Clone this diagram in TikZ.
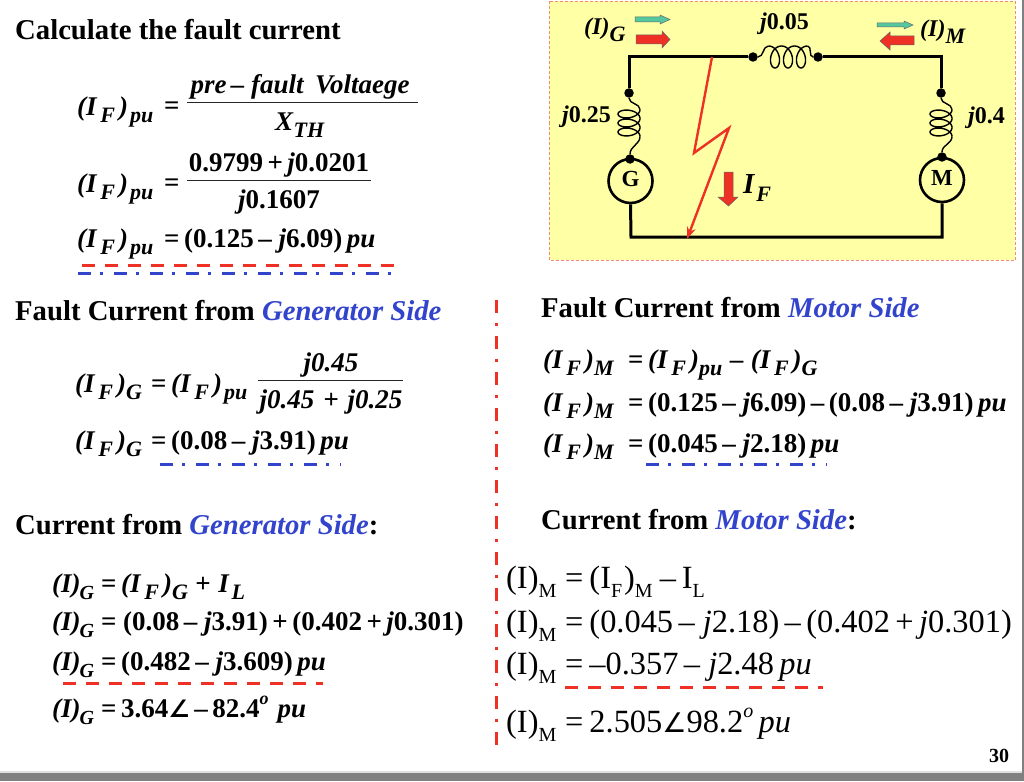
\documentclass[tikz,border=0pt]{standalone}
\usepackage{fontspec}
\usetikzlibrary{arrows.meta}
\setmainfont{Liberation Serif}
\newfontfamily\dvfont{DejaVu Sans}
\definecolor{redc}{HTML}{EE3124}
\definecolor{bluec}{HTML}{3344CC}
\definecolor{tealc}{HTML}{55C8A0}
\definecolor{boxc}{HTML}{FFFFA6}
\definecolor{boxline}{HTML}{F58A7A}
\newcommand\fs[1]{\fontsize{#1}{#1}\selectfont}
\newcommand\subs[1]{\raisebox{-0.28em}{\fs{22}#1}}
\newcommand\ssubs[1]{\raisebox{-0.3em}{\fs{20}#1}}
\newcommand\fI{\textit{(I}\kern3pt\subs{\textit{F}}\kern4pt\textit{)}}
\newcommand\fIG{\textit{(I)}\kern-1pt\raisebox{-0.28em}{\fs{20}\textit{G}}}
\newcommand\rI{(I)\ssubs{M}}
\newcommand\ang{{\dvfont\fs{24}∠}}
\newcommand\E[4]{\node[#1] (#2) at (#3) {#4};}
\tikzset{
 head/.style={font=\bfseries\fs{28.7},anchor=base west,inner sep=0pt},
 eqn/.style={font=\bfseries\fs{27},anchor=base west,inner sep=0pt},
 eqc/.style={font=\bfseries\fs{27},anchor=base,inner sep=0pt},
 req/.style={font=\fs{32.4},anchor=base west,inner sep=0pt},
 lab/.style={font=\bfseries\itshape\fs{24},anchor=base west,inner sep=0pt},
 fracline/.style={line width=1pt,black!85},
 reddash/.style={redc,line width=3pt,dash pattern=on 13pt off 10pt},
 bluedash/.style={bluec,line width=3pt,dash pattern=on 13pt off 9pt on 3pt off 11pt},
 divider/.style={redc,line width=3pt,dash pattern=on 13pt off 10pt on 3pt off 10pt},
 wire/.style={line width=3pt,black,line join=miter},
 coil/.style={line width=1.4pt,black},
 junction/.style={circle,fill=black,inner sep=0pt,minimum size=9.5pt},
 machine/.style={circle,draw=black,line width=2.6pt,fill=boxc,minimum size=44pt,inner sep=0pt,font=\bfseries\fs{23}},
 blockarrow/.style={draw=black!60,line width=.5pt},
}
\begin{document}
\begin{tikzpicture}[x=1pt,y=-1pt]
\useasboundingbox (0,0) rectangle (1024,781);
\fill[white] (0,0) rectangle (1024,781);
% slide frame
\fill[black!50] (0,773) rectangle (1024,781);
\fill[black!50] (1022,0) rectangle (1024,781);
\fill[black!12] (0,771) rectangle (1022,773);
% circuit panel
\draw[boxline,fill=boxc,line width=1pt,dash pattern=on 3pt off 2pt] (549,1.5) rectangle (1015,260);
% circuit nodes
\node[machine] (G) at (630.5,181) {\raisebox{4pt}{G}};
\node[machine] (M) at (942,180) {\raisebox{5pt}{M}};
\node[junction] (dA) at (753,57) {};
\node[junction] (dB) at (818,57) {};
\node[junction] (dL) at (629,93) {};
\node[junction] (dR) at (941,93) {};
\node[junction] (dG) at (630,159) {};
\node[junction] (dM) at (942,157) {};
\coordinate (BL) at (631,237);
\coordinate (BR) at (942,237);
\coordinate (F1) at (712,57);
\coordinate (F2) at (729,128);
\coordinate (F3) at (694,153);
\coordinate (F4) at (687,239);
\coordinate (hS) at (768.5,46);
\coordinate (hE) at (807.5,46);
\coordinate (lS) at (640,109.5);
\coordinate (lE) at (640,136.5);
\coordinate (rS) at (952,109.5);
\coordinate (rE) at (952,136.5);
% wires
\draw[wire] (dL) |- (dA);
\draw[wire] (dB) -| (dR);
\draw[wire] (G.south) -- (BL) -- (BR) -- (M.south);
% coils
\draw[coil] (dA) to[out=0,in=180] (hS);
\draw[coil,domain=-180:900,samples=110] plot ({775+13*\x/360-7.5*sin(\x)},{57+11*cos(\x)});
\draw[coil] (hE) to[out=0,in=180] (dB);
\draw[coil] (dL) to[out=-90,in=90] (lS);
\draw[coil,domain=-180:900,samples=110] plot ({629-11*cos(\x)},{114+9*\x/360-6*sin(\x)});
\draw[coil] (lE) to[out=-90,in=90] (dG);
\draw[coil] (dR) to[out=-90,in=90] (rS);
\draw[coil,domain=-180:900,samples=110] plot ({941-11*cos(\x)},{114+9*\x/360-6*sin(\x)});
\draw[coil] (rE) to[out=-90,in=90] (dM);
% fault
\draw[redc,line width=2.4pt,-{Stealth[length=12pt,width=9pt]},line join=miter] (F1) -- (F3) -- (F2) -- (F4);
% block arrows
\fill[tealc,blockarrow] (635,17) -- (660,17) -- (660,15) -- (670,19.5) -- (660,24) -- (660,22) -- (635,22) -- cycle;
\fill[redc,blockarrow] (636,35) -- (662,35) -- (662,31) -- (670,39.5) -- (662,48) -- (662,44) -- (636,44) -- cycle;
\fill[tealc,blockarrow] (877,23) -- (904,23) -- (904,21) -- (913,25) -- (904,29) -- (904,27) -- (877,27) -- cycle;
\fill[redc,blockarrow] (914,36) -- (890,36) -- (890,32) -- (880,41) -- (890,50) -- (890,45) -- (914,45) -- cycle;
\fill[redc,blockarrow] (724,172) -- (733,172) -- (733,197) -- (738,197) -- (728.5,206) -- (718,197) -- (724,197) -- cycle;
% circuit labels
\node[lab] (lIG) at (584,35) {(I)\subs{G}};
\node[lab] (lIM) at (920,37) {(I)\subs{M}};
\node[lab] (l005) at (760,30) {j\textup{0.05}};
\node[lab] (l025) at (562,122) {j\textup{0.25}};
\node[lab] (l04) at (968,124) {j\textup{0.4}};
\node[lab,font=\bfseries\itshape\fs{29}] (lIF) at (743,193) {I\kern2pt\subs{F}};
% top left
\node[head] (t1) at (15,40) {Calculate the fault current};
\E{eqn}{a1}{77,115}{\fI\kern2pt\subs{\textit{pu}}}
\E{eqn}{a1e}{164,114}{=}
\E{eqc}{a1n}{300,94}{\textit{pre\,– fault\, Voltaege}}
\draw[fracline] (187,103) -- (418,103);
\E{eqc}{a1d}{300,130}{\textit{X}\subs{\textit{TH}}}
\E{eqn}{a2}{77,192}{\fI\kern2pt\subs{\textit{pu}}}
\E{eqn}{a2e}{164,191}{=}
\E{eqc}{a2n}{279,171}{0.9799\,+\,\textit{j}0.0201}
\draw[fracline] (187,180) -- (371,180);
\E{eqc}{a2d}{279,208}{\textit{j}0.1607}
\E{eqn}{a3}{77,247}{\fI\kern2pt\subs{\textit{pu}}}
\E{eqn}{a3e}{164,247}{=\,(0.125\,– \textit{j}6.09)\,\textit{pu}}
\draw[reddash] (82,265) -- (394,265);
\draw[bluedash] (78,273.5) -- (393,273.5);
% generator side
\node[head] (t2) at (15,320) {Fault Current from \textcolor{bluec}{\textit{Generator Side}}};
\E{eqn}{b1}{75,392}{\fI\subs{\textit{G}}}
\E{eqn}{b1e}{151,392}{=\,\fI\kern2pt\subs{\textit{pu}}}
\E{eqc}{b1n}{331,371}{\textit{j0.45}}
\draw[fracline] (258,380) -- (403,380);
\E{eqc}{b1d}{331,408}{\textit{j0.45\,\,+\,\,j0.25}}
\E{eqn}{b2}{75,449}{\fI\subs{\textit{G}}}
\E{eqn}{b2e}{151,449}{=\,(0.08\,– \textit{j}3.91)\,\textit{pu}}
\draw[bluedash] (160,464) -- (341,464);
\node[head] (t3) at (15,534) {Current from \textcolor{bluec}{\textit{Generator Side}}:};
\E{eqn}{c1}{52,592}{\fIG}
\E{eqn}{c1e}{101,592}{=\,\fI\subs{\textit{G}}\kern3pt\,+\,\kern3pt\textit{I}\kern2pt\subs{\textit{L}}}
\E{eqn}{c2}{52,630}{\fIG}
\E{eqn}{c2e}{101,630}{=\,\kern2pt(0.08\,– \textit{j}3.91)\,+\,(0.402\,+\,\textit{j}0.301)}
\E{eqn}{c3}{52,670}{\fIG}
\E{eqn}{c3e}{101,670}{=\,(0.482\,– \textit{j}3.609)\,\textit{pu}}
\draw[reddash] (63,683) -- (323,683);
\E{eqn}{c4}{52,717}{\fIG}
\E{eqn}{c4e}{101,717}{=\,3.64\ang\,–\,82.4\raisebox{.45em}{\fs{18}\textit{o}}\,\,\textit{pu}}
% divider
\draw[divider] (496,300) -- (496,746);
% motor side
\node[head] (t4) at (541,317) {Fault Current from \textcolor{bluec}{\textit{Motor Side}}};
\E{eqn}{d1}{543,368}{\fI\subs{\textit{M}}}
\E{eqn}{d1e}{628,368}{=\,\fI\subs{\textit{pu}}\kern3pt\,–\,\kern3pt\fI\subs{\textit{G}}}
\E{eqn}{d2}{543,411}{\fI\subs{\textit{M}}}
\E{eqn}{d2e}{628,411}{=\,(0.125\,– \textit{j}6.09)\,–\,(0.08\,– \textit{j}3.91)\,\textit{pu}}
\E{eqn}{d3}{543,452}{\fI\subs{\textit{M}}}
\E{eqn}{d3e}{628,452}{=\,(0.045\,– \textit{j}2.18)\,\textit{pu}}
\draw[bluedash] (646,464) -- (827,464);
\node[head] (t5) at (541,529) {Current from \textcolor{bluec}{\textit{Motor Side}}:};
\E{req}{e1}{506,588}{\rI}
\E{req}{e1e}{565,588}{=\kern6pt(I\ssubs{F}\kern2pt)\ssubs{M}\kern7pt–\kern6ptI\ssubs{L}}
\E{req}{e2}{506,632}{\rI}
\E{req}{e2e}{565,632}{=\kern6pt(0.045\,– \textit{j}2.18)\,–\,(0.402\,+\,\textit{j}0.301)}
\E{req}{e3}{506,674}{\rI}
\E{req}{e3e}{565,674}{=\kern6pt–0.357\,– \textit{j}2.48\,\textit{pu}}
\draw[reddash] (565,687) -- (823,687);
\E{req}{e4}{506,732}{\rI}
\E{req}{e4e}{565,732}{=\kern6pt2.505{\dvfont\fs{27}∠}98.2\raisebox{.45em}{\fs{20}\textit{o}}\,\textit{pu}}
\node[font=\bfseries\fs{20},anchor=base west,inner sep=0pt] (pg) at (989,762) {30};
\end{tikzpicture}
\end{document}
